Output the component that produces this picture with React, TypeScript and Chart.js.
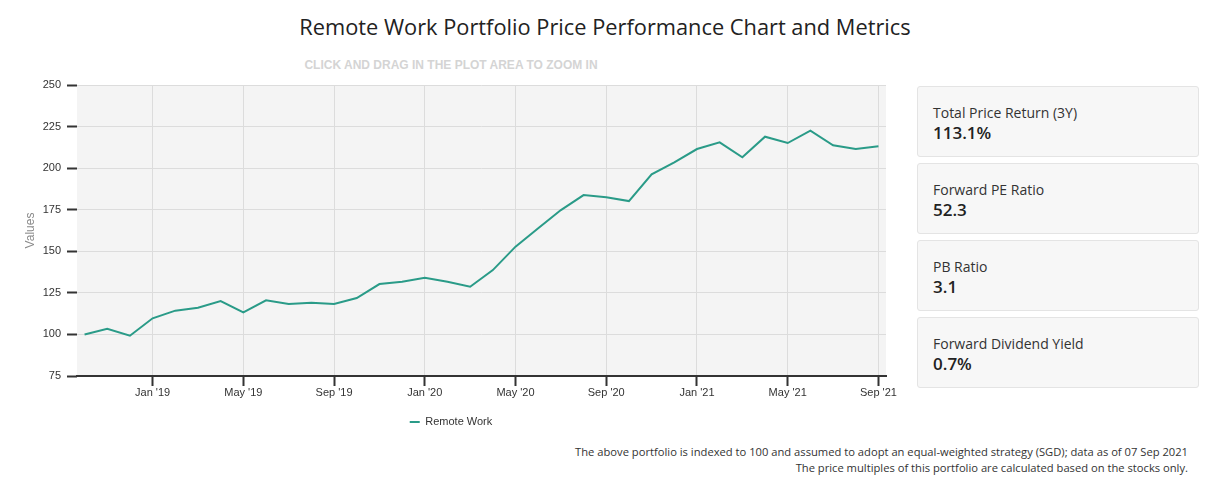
import React, { useEffect, useRef } from "react";
import { Chart, registerables } from "chart.js";

Chart.register(...registerables);

// ---- Data ----
const months = [
  "2018-10", "2018-11", "2018-12",
  "2019-01", "2019-02", "2019-03", "2019-04", "2019-05", "2019-06",
  "2019-07", "2019-08", "2019-09", "2019-10", "2019-11", "2019-12",
  "2020-01", "2020-02", "2020-03", "2020-04", "2020-05", "2020-06",
  "2020-07", "2020-08", "2020-09", "2020-10", "2020-11", "2020-12",
  "2021-01", "2021-02", "2021-03", "2021-04", "2021-05", "2021-06",
  "2021-07", "2021-08", "2021-09",
];
const remoteWork = [
  100.0, 103.4, 99.2,
  109.7, 114.3, 116.1, 120.1, 113.3, 120.5,
  118.3, 119.1, 118.3, 121.9, 130.3, 131.7,
  134.1, 131.7, 128.7, 138.7, 152.8, 163.8,
  174.8, 183.8, 182.5, 180.2, 196.3, 203.5,
  211.5, 215.5, 206.5, 218.9, 215.1, 222.5,
  213.7, 211.5, 213.1,
];
const seriesName = "Remote Work";
const xTickMonths = ["2019-01", "2019-05", "2019-09", "2020-01", "2020-05", "2020-09", "2021-01", "2021-05", "2021-09"];
const xTickLabels = ["Jan '19", "May '19", "Sep '19", "Jan '20", "May '20", "Sep '20", "Jan '21", "May '21", "Sep '21"];
const xMin = "2018-09-21";
const xMax = "2021-09-11";
const yTicks = [75, 100, 125, 150, 175, 200, 225, 250];

const metricLabels = ["Total Price Return (3Y)", "Forward PE Ratio", "PB Ratio", "Forward Dividend Yield"];
const metricValues = ["113.1%", "52.3", "3.1", "0.7%"];

const titleText = "Remote Work Portfolio Price Performance Chart and Metrics";
const zoomHint = "CLICK AND DRAG IN THE PLOT AREA TO ZOOM IN";
const footnotes = [
  "The above portfolio is indexed to 100 and assumed to adopt an equal-weighted strategy (SGD); data as of 07 Sep 2021",
  "The price multiples of this portfolio are calculated based on the stocks only.",
];

// month string "YYYY-MM" or "YYYY-MM-DD" -> fractional month index since Jan 2018
function monthIndex(s: string): number {
  const parts = s.split("-").map(Number);
  const y = parts[0], m = parts[1], d = parts[2] || 1;
  return (y - 2018) * 12 + (m - 1) + (d - 1) / 30;
}

const LINE_COLOR = "#2a9b88";
const AXIS_FONT = "'Liberation Sans', Arial, sans-serif";
const OPEN = "'Open Sans', 'Noto Sans', sans-serif";

const plotBg = {
  id: "plotBg",
  beforeDraw(chart: any) {
    const { ctx, chartArea } = chart;
    ctx.save();
    ctx.fillStyle = "#f4f4f4";
    ctx.fillRect(chartArea.left, chartArea.top, chartArea.right - chartArea.left, chartArea.bottom - chartArea.top);
    ctx.restore();
  },
};

function PriceChart() {
  const ref = useRef<HTMLCanvasElement | null>(null);
  useEffect(() => {
    if (!ref.current) return;
    const points = months.map((m, i) => ({ x: monthIndex(m), y: remoteWork[i] }));
    const tickVals = xTickMonths.map(monthIndex);
    const chart = new Chart(ref.current, {
      type: "line",
      data: {
        datasets: [
          {
            label: seriesName,
            data: points,
            borderColor: LINE_COLOR,
            backgroundColor: LINE_COLOR,
            borderWidth: 2,
            pointRadius: 0,
            tension: 0,
            fill: false,
          },
        ],
      },
      options: {
        animation: false,
        responsive: false,
        devicePixelRatio: 1,
        layout: { padding: { top: 85, right: 14, bottom: 2.5, left: 0 } },
        plugins: {
          legend: {
            position: "bottom",
            labels: {
              usePointStyle: true,
              pointStyle: "line",
              pointStyleWidth: 10,
              boxHeight: 10,
              padding: 10,
              color: "#333333",
              font: { family: AXIS_FONT, size: 11 },
            },
          },
          tooltip: { enabled: false },
          title: { display: false },
        },
        scales: {
          x: {
            type: "linear",
            min: monthIndex(xMin),
            max: monthIndex(xMax),
            afterBuildTicks: (scale: any) => {
              scale.ticks = tickVals.map((v) => ({ value: v }));
            },
            afterFit: (scale: any) => {
              scale.height = 30.5;
            },
            ticks: {
              autoSkip: false,
              maxRotation: 0,
              padding: 0,
              color: "#333333",
              font: { family: AXIS_FONT, size: 11 },
              callback: (v: any) => {
                const i = tickVals.findIndex((t) => Math.abs(t - Number(v)) < 1e-6);
                return i >= 0 ? xTickLabels[i] : "";
              },
            },
            grid: {
              color: "#dcdcdc",
              lineWidth: 1,
              tickColor: "#333333",
              tickWidth: 2,
              tickLength: 10,
            },
            border: { display: true, color: "#333333", width: 2 },
          },
          y: {
            min: 75,
            max: 250,
            afterBuildTicks: (scale: any) => {
              scale.ticks = yTicks.map((v) => ({ value: v }));
            },
            afterFit: (scale: any) => {
              scale.width = 61;
            },
            ticks: {
              padding: 6,
              color: "#333333",
              font: { family: AXIS_FONT, size: 11 },
            },
            grid: {
              color: "#dcdcdc",
              lineWidth: 1,
              tickColor: "#333333",
              tickWidth: 2,
              tickLength: 10,
            },
            border: { display: false },
            title: {
              display: true,
              text: "Values",
              color: "#8a8a8a",
              font: { family: AXIS_FONT, size: 12 },
              padding: { top: 7, bottom: 0 },
            },
          },
        },
      },
      plugins: [plotBg],
    } as any);
    return () => chart.destroy();
  }, []);
  return <canvas ref={ref} width={884} height={440} style={{ position: "absolute", left: 16, top: 0, width: 884, height: 440 }} />;
}

export default function App() {
  useEffect(() => {
    document.body.style.margin = "0";
  }, []);
  return (
    <div style={{ position: "relative", width: 1210, height: 490, background: "#ffffff", overflow: "hidden" }}>
      <div
        style={{
          position: "absolute", left: 0, top: 12, width: 1210, textAlign: "center",
          fontFamily: OPEN, fontSize: 21.8, lineHeight: "30px", color: "#222222",
        }}
      >
        {titleText}
      </div>
      <div
        style={{
          position: "absolute", left: 16, top: 58, width: 870, textAlign: "center",
          fontFamily: AXIS_FONT, fontSize: 12, lineHeight: "14px", fontWeight: "bold", color: "#d4d4d4",
        }}
      >
        {zoomHint}
      </div>
      <PriceChart />
      {metricLabels.map((label, i) => (
        <div
          key={label}
          style={{
            position: "absolute", left: 917, top: 86 + i * 77, width: 282, height: 71, boxSizing: "border-box",
            background: "#f7f7f7", border: "1px solid #e4e4e4", borderRadius: 3, padding: "17px 0 0 15px",
            fontFamily: OPEN, color: "#333333",
          }}
        >
          <div style={{ fontSize: 14, lineHeight: "18px", color: "#333333" }}>{label}</div>
          <div style={{ fontSize: 17, lineHeight: "22px", fontWeight: 600, color: "#222222" }}>{metricValues[i]}</div>
        </div>
      ))}
      <div
        style={{
          position: "absolute", right: 22, top: 444, textAlign: "right",
          fontFamily: OPEN, fontSize: 11.2, lineHeight: "16px", color: "#333333", whiteSpace: "nowrap",
        }}
      >
        {footnotes.map((f) => (
          <div key={f}>{f}</div>
        ))}
      </div>
    </div>
  );
}
